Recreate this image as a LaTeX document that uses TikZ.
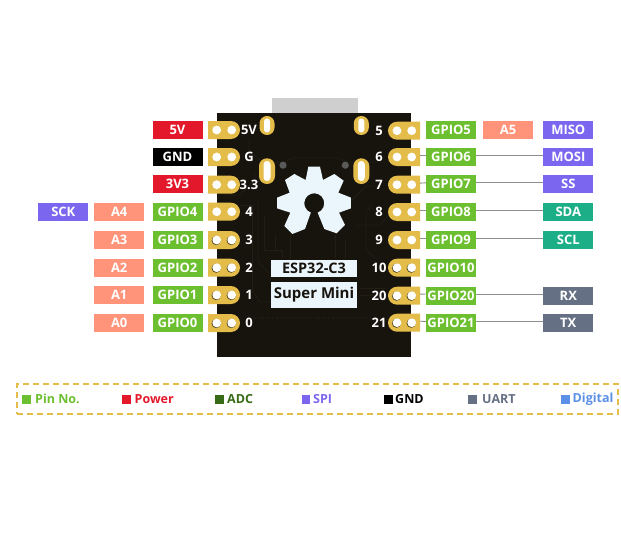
\documentclass[tikz,border=0pt]{standalone}
\usepackage{fontspec}
\setmainfont{Open Sans}
\definecolor{cgreen}{HTML}{6CBF2E}
\definecolor{cred}{HTML}{E3182B}
\definecolor{cadc}{HTML}{376B16}
\definecolor{cspi}{HTML}{7B66F0}
\definecolor{cuart}{HTML}{667085}
\definecolor{cdig}{HTML}{5B90E6}
\definecolor{csalmon}{HTML}{FF947A}
\definecolor{cteal}{HTML}{1CAF87}
\definecolor{cgold}{HTML}{E3BC4A}
\definecolor{cboard}{HTML}{17130D}
\definecolor{ctrace}{HTML}{221E16}
\definecolor{cwire}{HTML}{8E8E8E}
\definecolor{cgear}{HTML}{EAF6FC}
\tikzset{
  x=1pt,y=-1pt,
  tag/.style={minimum width=50pt,minimum height=18pt,inner sep=0pt,text=white,font=\fontsize{13}{15}\selectfont\bfseries},
  gpio/.style={tag,fill=cgreen},
  pwr/.style={tag,fill=cred},
  gnd/.style={tag,fill=black},
  adc/.style={tag,fill=csalmon},
  spi/.style={tag,fill=cspi},
  iic/.style={tag,fill=cteal},
  uart/.style={tag,fill=cuart},
  wire/.style={draw=cwire,line width=0.9pt},
  trace/.style={draw=ctrace,line width=0.8pt},
  pinno/.style={text=white,inner sep=0pt,font=\fontsize{13}{15}\selectfont\bfseries},
  chiplabel/.style={fill=cgear,text=cboard,inner sep=0pt,minimum width=86.6pt,font=\fontsize{14.5}{16}\selectfont\bfseries},
  legsq/.style={minimum size=8.6pt,inner sep=0pt},
  legtx/.style={anchor=west,inner sep=0pt,font=\fontsize{12.5}{14}\selectfont\bfseries},
  hole/.style={fill=white},
  holeshade/.style={fill=black!65!cgold},
}
\begin{document}
\begin{tikzpicture}
\useasboundingbox (0,0) rectangle (621,535);
% USB connector and board
\fill[fill=black!19] (272,98) rectangle (358,113);
\fill[cboard] (216.7,112.7) rectangle (411,357);
% board traces
\draw[trace] (249,140) -- (249,150) -- (262,162) -- (285,162) -- (292,158) -- (340,158) -- (346,162) -- (378,162);
\draw[trace] (225,195) -- (240,195) -- (255,180) -- (255,172);
\draw[trace] (240,205) -- (252,205) -- (252,290);
\draw[trace] (258,200) -- (258,262) -- (268,272);
\draw[trace] (264,215) -- (264,250) -- (282,250) -- (282,258);
\draw[trace] (275,235) -- (275,250);
\draw[trace] (290,235) -- (290,258);
\draw[trace] (335,235) -- (335,258);
\draw[trace] (345,240) -- (345,258);
\draw[trace] (352,200) -- (366,186) -- (378,186);
\draw[trace] (372,205) -- (366,212) -- (366,250) -- (375,258);
\draw[trace] (356,225) -- (380,225) -- (388,216);
\draw[trace] (360,295) -- (385,295);
\draw[trace] (360,288) -- (385,288);
\draw[trace] (252,290) -- (260,302) -- (270,302);
\draw[trace,dotted,line width=1.2pt] (255,318) -- (370,318);
% mounting slots
\foreach \sx in {267,361.3}{
  \fill[cgold,rounded corners=7.4pt] (\sx-7.5,116) rectangle (\sx+7.5,135);
  \fill[white,rounded corners=2.9pt] (\sx-3,118.5) rectangle (\sx+3,132.5);
  \fill[cgold,rounded corners=7.9pt] (\sx-8,158.3) rectangle (\sx+8,184);
  \fill[white,rounded corners=3.4pt] (\sx-3.5,161) rectangle (\sx+3.5,181);
}
\fill[black!65] (283,165.2) circle[radius=3.6pt];
\fill[black!65] (345.3,165.2) circle[radius=3.6pt];
% pads, left
\foreach \py/\nm/\tx in {130/a/5V,157/b/G,184.7/c/3.3,211.7/d/4,240/e/3,267.7/f/2,295/g/1,323/h/0}{
  \fill[cgold] (208,\py-9) -- (231,\py-9) arc[start angle=90,end angle=-90,radius=9pt] -- (208,\py+9) -- cycle;
  \coordinate (pl\nm) at (208,\py);
  \node[pinno] (nl\nm) at (249,\py) {\tx};
}
\foreach \py in {240,267.7,295,323}{
  \fill[holeshade] (216.2,\py+0.5) circle[radius=4.6pt];
  \fill[holeshade] (231.2,\py+0.5) circle[radius=4.6pt];
}
\foreach \py in {130,157,184.7,211.7,240,267.7,295,323}{
  \fill[hole] (216.7,\py) circle[radius=4.4pt];
  \fill[hole] (231.7,\py) circle[radius=4.4pt];
}
% pads, right
\foreach \py/\nm/\tx in {130.7/a/5,157/b/6,184.7/c/7,212/d/8,240/e/9,267.7/f/10,295.7/g/20,322.7/h/21}{
  \fill[cgold] (420,\py-9) -- (397,\py-9) arc[start angle=90,end angle=270,radius=9pt] -- (420,\py+9) -- cycle;
  \coordinate (pr\nm) at (420,\py);
  \node[pinno] (nr\nm) at (379,\py) {\tx};
}
\foreach \py in {267.7,295.7,322.7}{
  \fill[holeshade] (396.5,\py+0.5) circle[radius=4.6pt];
  \fill[holeshade] (411.2,\py+0.5) circle[radius=4.6pt];
}
\foreach \py in {130.7,157,184.7,212,240,267.7,295.7,322.7}{
  \fill[hole] (397,\py) circle[radius=4.4pt];
  \fill[hole] (411.7,\py) circle[radius=4.4pt];
}
% gear
\begin{scope}[shift={(265,160)},x=0.3333pt,y=-0.3333pt]
\fill[cgear]
  (130,20) -- (165,20) -- (174,60) -- (208,42) -- (236,62) -- (220,98) -- (258,113) -- (258,145)
  -- (222,158) -- (240,195) -- (215,220) -- (178,207) -- (158,158)
  arc[start angle=-70,end angle=250,radius=10pt]
  -- (120,207) -- (82,222) -- (58,198) -- (76,158) -- (36,145) -- (36,113) -- (74,98) -- (60,60) -- (88,42) -- (122,60) -- cycle;
\end{scope}
% chip labels
\node[chiplabel,minimum height=16.7pt] (chipa) at (314,268.4) {ESP32-C3};
\node[chiplabel,minimum height=26.6pt,font=\fontsize{15}{17}\selectfont\bfseries] (chipb) at (314,295) {Super Mini};
% left tags
\node[pwr] (t5v) at (177.5,130.3) {5V};
\node[gnd] (tgnd) at (177.5,157) {GND};
\node[pwr] (t3v3) at (177.5,184.3) {3V3};
\node[gpio] (g4) at (177.5,212) {GPIO4};
\node[gpio] (g3) at (177.5,240) {GPIO3};
\node[gpio] (g2) at (177.5,268) {GPIO2};
\node[gpio] (g1) at (177.5,295) {GPIO1};
\node[gpio] (g0) at (177.5,323) {GPIO0};
\node[adc] (a4) at (119.2,212) {A4};
\node[adc] (a3) at (119.2,240) {A3};
\node[adc] (a2) at (119.2,268) {A2};
\node[adc] (a1) at (119.2,295) {A1};
\node[adc] (a0) at (119.2,323) {A0};
\node[spi] (sck) at (63.3,212) {SCK};
% right tags
\node[gpio] (g5) at (451,130.3) {GPIO5};
\node[gpio] (g6) at (451,157) {GPIO6};
\node[gpio] (g7) at (451,184.3) {GPIO7};
\node[gpio] (g8) at (451,212) {GPIO8};
\node[gpio] (g9) at (451,240) {GPIO9};
\node[gpio] (g10) at (451,268) {GPIO10};
\node[gpio] (g20) at (451,295.5) {GPIO20};
\node[gpio] (g21) at (451,323) {GPIO21};
\node[adc] (a5) at (508,130.3) {A5};
\node[spi] (miso) at (568.3,130.3) {MISO};
\node[spi] (mosi) at (568.3,157) {MOSI};
\node[spi] (ss) at (568.3,184.3) {SS};
\node[iic] (sda) at (568.3,212) {SDA};
\node[iic] (scl) at (568.3,240) {SCL};
\node[uart] (rx) at (568.3,295.5) {RX};
\node[uart] (tx) at (568.3,323) {TX};
% connectors
\foreach \p/\g/\e in {prb/g6/mosi,prc/g7/ss,prd/g8/sda,pre/g9/scl,prg/g20/rx,prh/g21/tx}{
  \draw[wire] ([yshift=1.5pt]\p) -- ([yshift=1.5pt]\g.west);
  \draw[wire] ([yshift=1.5pt]\g.east) -- ([yshift=1.5pt]\e.west);
}
% legend
\node[draw=cgold,line width=1.6pt,dash pattern=on 6pt off 4pt,minimum width=601pt,minimum height=30pt,inner sep=0pt] (legend) at (317.5,399) {};
\node[legsq,fill=cgreen] (l1) at (26.5,399.2) {};
\node[legtx,text=cgreen] (lt1) at (35,399) {Pin No.};
\node[legsq,fill=cred] (l2) at (126.5,399.2) {};
\node[legtx,text=cred] (lt2) at (134.5,399) {Power};
\node[legsq,fill=cadc] (l3) at (219.5,399.2) {};
\node[legtx,text=cadc] (lt3) at (227,399) {ADC};
\node[legsq,fill=cspi] (l4) at (306,399.2) {};
\node[legtx,text=cspi] (lt4) at (313,399) {SPI};
\node[legsq,fill=black] (l5) at (388.5,399.2) {};
\node[legtx,text=black] (lt5) at (395,399) {GND};
\node[legsq,fill=cuart] (l6) at (472.5,399.2) {};
\node[legtx,text=cuart] (lt6) at (482,399) {UART};
\node[legsq,fill=cdig] (l7) at (565.5,399.2) {};
\node[legtx,text=cdig] (lt7) at (572.5,399) {Digital};
\end{tikzpicture}
\end{document}
